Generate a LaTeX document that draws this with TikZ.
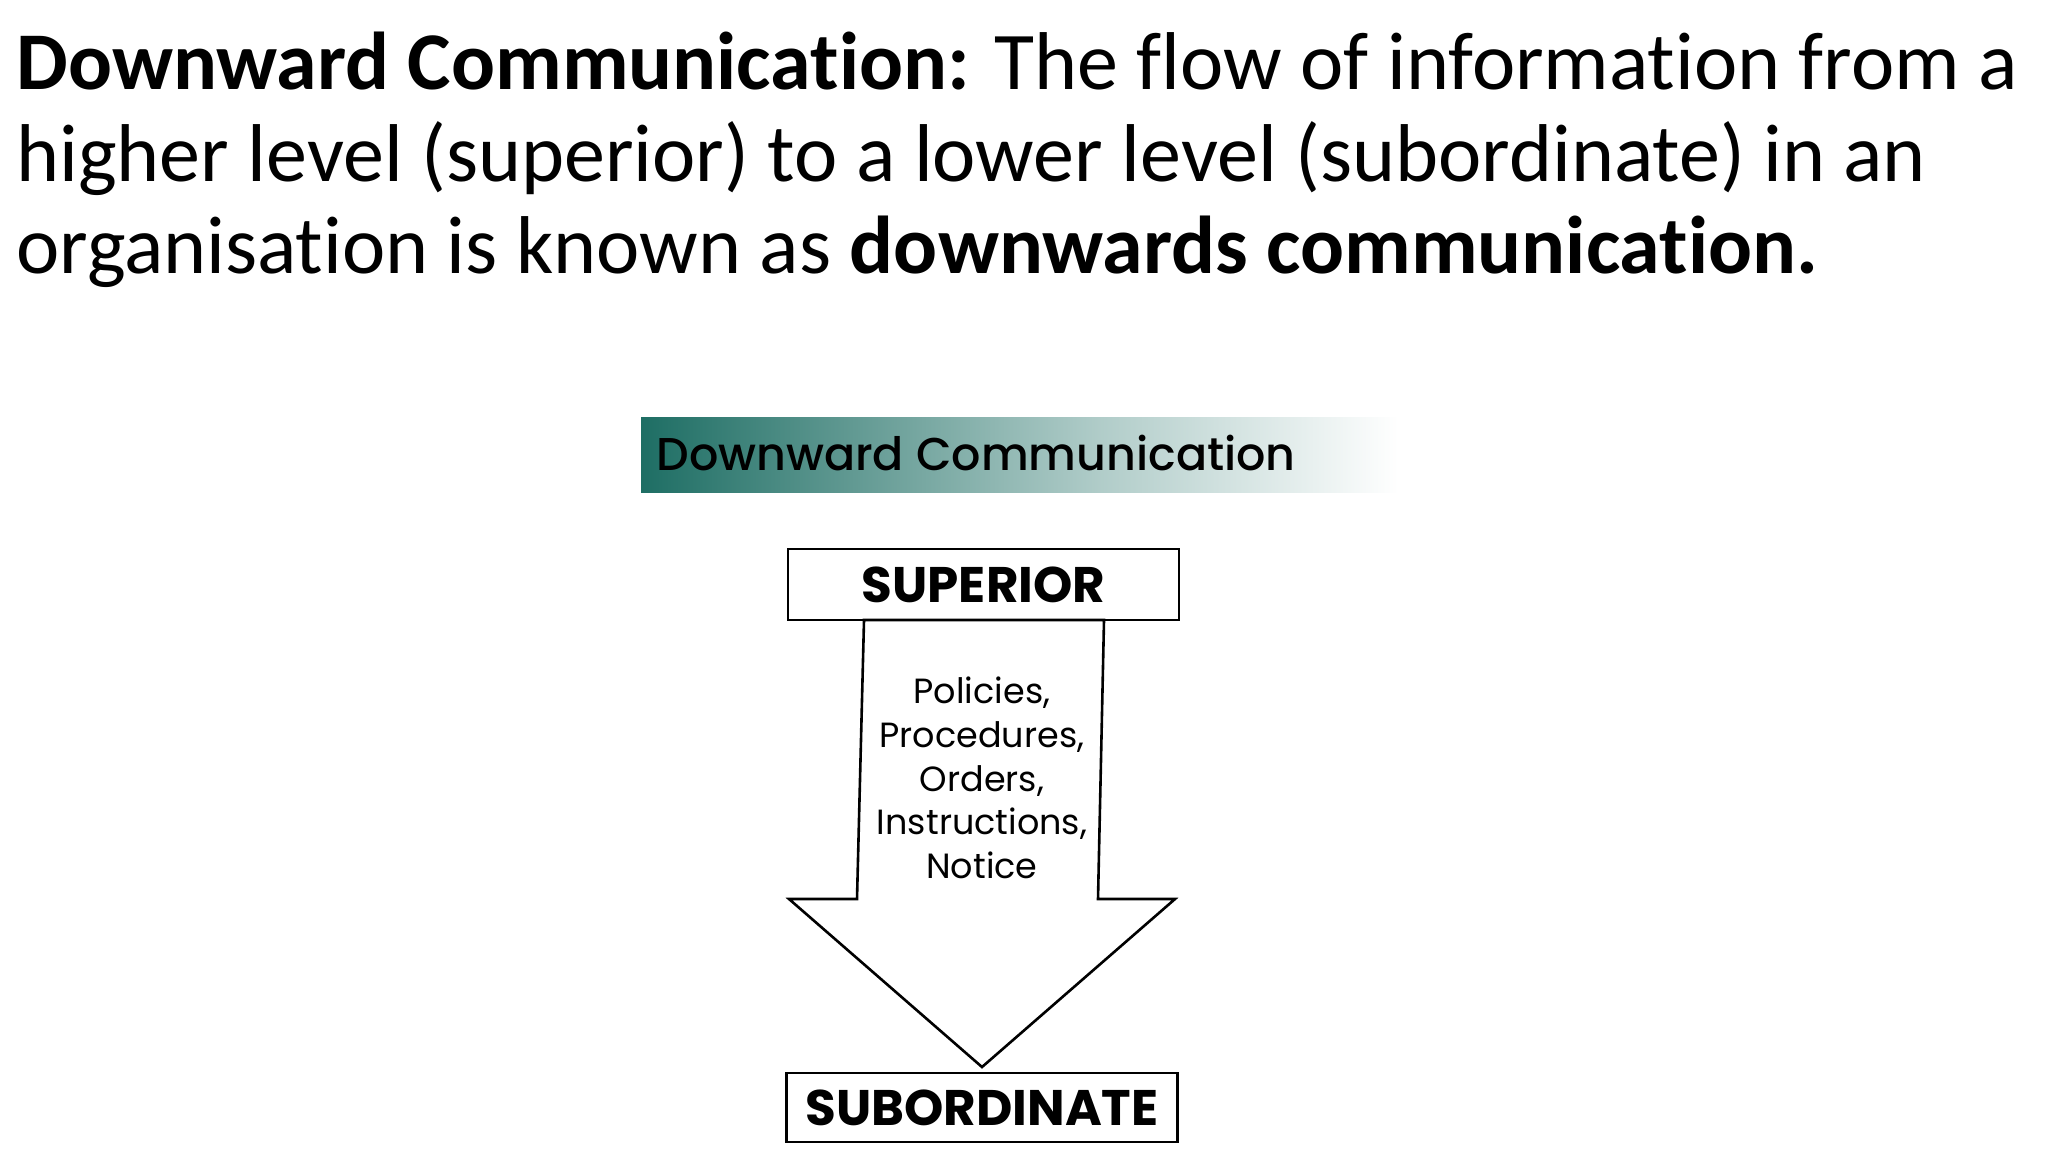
\documentclass[tikz,border=0pt]{standalone}
\usepackage{fontspec}
\setmainfont{Carlito}[Ligatures=NoCommon]
\newfontfamily\pop{Poppins}
\newfontfamily\popm{Poppins Medium}
\newfontfamily\popb{Poppins Bold}
\definecolor{teal1}{HTML}{1E6E64}
\begin{document}
\begin{tikzpicture}[x=0.5pt,y=-0.5pt,
  box/.style={draw,line width=1.3pt,minimum width=195.5pt,inner sep=0pt},
  lbl/.style={font=\popb\fontsize{25}{28}\selectfont},
  ttl/.style={anchor=base west,inner sep=0,font=\fontsize{41}{46}\selectfont}]
\useasboundingbox (0,0) rectangle (2048,1152);
\node[ttl] (t) at (16,89) {\textbf{Downward Communication:} The flow of information from a};
\node[ttl] (t2) at (16,181) {higher level (superior) to a lower level (subordinate) in an};
\node[ttl] (t3) at (16,273) {organisation is known as \textbf{downwards communication.}};
\shade[left color=teal1,right color=teal1!35] (641,417) rectangle (1100,492);
\shade[left color=teal1!35,right color=white] (1099,417) rectangle (1398,492);
\node[anchor=base west,inner sep=0,font=\popm\fontsize{23}{26}\selectfont] (bt) at (656,470) {Downward Communication};
\draw[line width=1.3pt,fill=white] (864,620) -- (857,899) -- (789,899) -- (982,1067) -- (1175,899) -- (1098,899) -- (1104,620) -- cycle;
\node[box,minimum height=35.5pt] (sup) at (983.5,584.5) {};
\node[lbl] at (sup) {SUPERIOR};
\node[box,minimum height=34.5pt] (sub) at (982,1107.5) {};
\node[lbl] at (sub) {SUBORDINATE};
\node[align=center,font=\pop\fontsize{17.5}{21.8}\selectfont] (txt) at (982,778) {Policies,\\Procedures,\\Orders,\\Instructions,\\Notice};
\end{tikzpicture}
\end{document}
